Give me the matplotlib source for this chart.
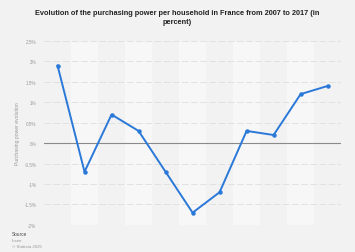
import numpy as np
import matplotlib
matplotlib.use('Agg')
import matplotlib.pyplot as plt

# 数据：2007-2017 年家庭购买力变化（%）
years = [2007, 2008, 2009, 2010, 2011, 2012, 2013, 2014, 2015, 2016, 2017]
values = [1.9, -0.7, 0.7, 0.3, -0.7, -1.7, -1.2, 0.3, 0.2, 1.2, 1.4]
yticks = [-2, -1.5, -1, -0.5, 0, 0.5, 1, 1.5, 2, 2.5]
ytick_labels = ['-2%', '-1.5%', '-1%', '-0.5%', '0%', '0.5%', '1%', '1.5%', '2%', '2.5%']

plt.rcParams['font.family'] = ['Liberation Sans', 'DejaVu Sans']

fig = plt.figure(figsize=(3.55, 2.53), dpi=100)
fig.patch.set_facecolor('#f2f2f2')
ax = fig.add_axes([0.124, 0.107, 0.837, 0.727])
ax.set_facecolor('#f2f2f2')

# 交替的浅色竖条
for yr in years[1::2]:
    ax.axvspan(yr - 0.5, yr + 0.5, color='#f7f7f7', zorder=0, lw=0)

for t in yticks:
    if t != 0:
        ax.axhline(t, color='#dedede', lw=0.6, ls=(0, (8, 3)), zorder=1)
ax.axhline(0, color='#8a8a8a', lw=0.8, zorder=2)

ax.plot(years, values, color='#2a78d8', lw=1.4, marker='o', ms=2.2, zorder=3)

ax.set_xlim(2006.5, 2017.5)
ax.set_ylim(-2, 2.5)
ax.set_xticks([])
ax.set_yticks(yticks)
ax.set_yticklabels(ytick_labels, fontsize=3.3, color='#999999')
ax.tick_params(axis='y', length=0, pad=5.5)
for s in ax.spines.values():
    s.set_visible(False)
ax.set_ylabel('Purchasing power evolution', fontsize=3.6, color='#999999', labelpad=3)

fig.text(0.5, 0.962, 'Evolution of the purchasing power per household in France from 2007 to 2017 (in\npercent)',
         ha='center', va='top', fontsize=5.3, fontweight='bold', color='#222222', linespacing=1.5)

fig.text(0.034, 0.072, 'Source', fontsize=3.4, color='#444444', va='center')
fig.text(0.034, 0.048, 'Insee', fontsize=3.2, color='#999999', va='center')
fig.text(0.034, 0.024, '© Statista 2025', fontsize=3.2, color='#999999', va='center')

fig.savefig('out.png', dpi=100, facecolor=fig.get_facecolor())
